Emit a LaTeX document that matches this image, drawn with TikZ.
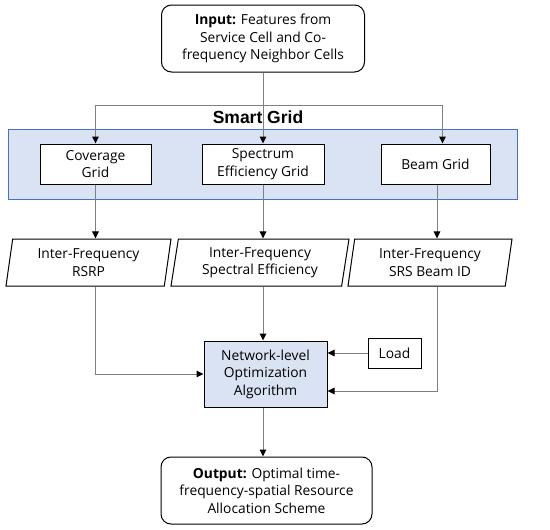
\documentclass[tikz,border=0pt]{standalone}
\usepackage{fontspec}
\setmainfont{Open Sans}
\newfontfamily\headfont{Liberation Sans}
\usetikzlibrary{shapes.geometric, arrows.meta, positioning}

\definecolor{bandblue}{HTML}{DAE3F3}
\definecolor{bandline}{HTML}{4472C4}
\definecolor{linegray}{HTML}{7F7F7F}

\tikzset{
  box/.style={draw, line width=1pt, fill=white, inner sep=2pt},
  roundbox/.style={box, rounded corners=10pt},
  databox/.style={box, trapezium, trapezium left angle=78, trapezium right angle=102,
    trapezium stretches body, minimum height=47pt},
  link/.style={draw=linegray, line width=1pt},
  arr/.style={link, -{Triangle[length=7pt, width=6.5pt, black]}}
}

\begin{document}
\begin{tikzpicture}[x=1pt, y=-1pt, every node/.style={font=\fontsize{13.8}{17.5}\selectfont, align=center}]
	\useasboundingbox (0,0) rectangle (550,530);
	
	% smart grid band
	\fill[bandblue, draw=bandline, line width=1pt] (8,129) rectangle (517,199);
	\node[font=\headfont\bfseries\fontsize{17.5}{19}\selectfont] (smart) at (258,117) {Smart Grid};
	
	\node[roundbox, minimum width=203pt, minimum height=67pt] (input) at (263,38.5)
		{\textbf{Input:} Features from\\Service Cell and Co-\\frequency Neighbor Cells};
	
	\node[box, minimum width=111pt, minimum height=40pt] (cov) at (95.5,164) {Coverage\\Grid};
	\node[box, minimum width=122pt, minimum height=40pt] (spec) at (263,164) {Spectrum\\Efficiency Grid};
	\node[box, minimum width=109pt, minimum height=40pt] (beam) at (435.5,164) {Beam Grid};
	
	\node[databox, minimum width=165pt] (p1) at (88.5,262.5) {Inter-Frequency\\RSRP};
	\node[databox, minimum width=178pt] (p2) at (260,262.5) {Inter-Frequency\\Spectral Efficiency};
	\node[databox, minimum width=164pt] (p3) at (430,262.5) {Inter-Frequency\\SRS Beam ID};
	
	\node[box, fill=bandblue, minimum width=123pt, minimum height=66pt] (alg) at (265.5,374)
		{Network-level\\Optimization\\Algorithm};
	\node[box, minimum width=53pt, minimum height=30pt] (load) at (394.5,353) {Load};
	
	\node[roundbox, minimum width=211pt, minimum height=67pt] (output) at (266.5,490.5)
		{\textbf{Output:} Optimal time-\\frequency-spatial Resource\\Allocation Scheme};
	
	% connectors
	\coordinate (split) at (input.south |- 0,105);
	\draw[link] (input.south) -- (split);
	\draw[link] (cov.north |- split) -- ([xshift=7pt]beam.north |- split);
	\draw[arr] (cov.north |- split) -- (cov.north);
	\draw[arr] (split) -- (input.south |- spec.north);
	\draw[arr] ([xshift=7pt]beam.north |- split) -- ([xshift=7pt]beam.north);
	
	\draw[arr] (cov.south) -- (cov.south |- p1.north);
	\draw[arr] (spec.south) -- (spec.south |- p2.north);
	\draw[arr] ([xshift=1.5pt]beam.south) -- ([xshift=1.5pt]beam.south |- p3.north);
	
	\draw[arr] (cov.south |- p1.south) |- (alg.west);
	\draw[arr] (spec.south |- p2.south) -- (spec.south |- alg.north);
	\draw[arr] ([xshift=1.5pt]beam.south |- p3.south) |- ([yshift=-17pt]alg.east);
	\draw[arr] (load.west) -- (alg.east |- load.west);
	\draw[arr] (spec.south |- alg.south) -- (spec.south |- output.north);
\end{tikzpicture}
\end{document}
